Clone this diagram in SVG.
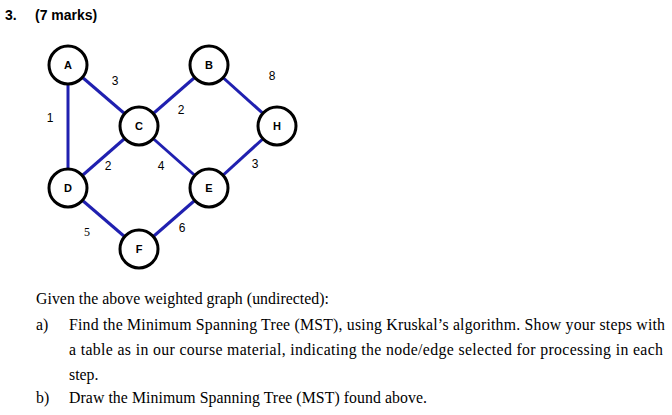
<svg xmlns="http://www.w3.org/2000/svg" width="672" height="415" viewBox="0 0 672 415">
<style>
.e{stroke:#2020b0;stroke-width:3}
.n circle{fill:#fff;stroke:#000;stroke-width:3}
.n text{font:bold 11px "Liberation Sans",sans-serif;text-anchor:middle}
.w{font:12px "Liberation Sans",sans-serif;text-anchor:middle}
.t{font:15.8px "Liberation Serif",serif}
</style>
<rect width="672" height="415" fill="#fff"/>
<text x="5" y="20" style="font:bold 14px 'Liberation Sans',sans-serif">3.</text>
<text x="35" y="20" style="font:bold 14px 'Liberation Sans',sans-serif">(7 marks)</text>
<g id="edges">
<line class="e" x1="68" y1="65" x2="68" y2="188"/>
<line class="e" x1="68" y1="65" x2="139" y2="126"/>
<line class="e" x1="209" y1="65" x2="139" y2="126"/>
<line class="e" x1="209" y1="65" x2="277" y2="126"/>
<line class="e" x1="68" y1="188" x2="139" y2="126"/>
<line class="e" x1="139" y1="126" x2="209" y2="188"/>
<line class="e" x1="277" y1="126" x2="209" y2="188"/>
<line class="e" x1="68" y1="188" x2="139" y2="249"/>
<line class="e" x1="209" y1="188" x2="139" y2="249"/>
<text class="w" x="115" y="85">3</text>
<text class="w" x="272" y="80">8</text>
<text class="w" x="181" y="114">2</text>
<text class="w" x="50" y="122">1</text>
<text class="w" x="108" y="170">2</text>
<text class="w" x="161" y="170">4</text>
<text class="w" x="255" y="168">3</text>
<text class="w" x="87" y="236" style="font-family:'Liberation Serif',serif">5</text>
<text class="w" x="182" y="232">6</text>
</g>
<g id="A" class="n"><circle cx="68" cy="65" r="19"/><text x="68" y="69">A</text></g>
<g id="B" class="n"><circle cx="209" cy="65" r="19"/><text x="209" y="69">B</text></g>
<g id="C" class="n"><circle cx="139" cy="126" r="19"/><text x="139" y="130">C</text></g>
<g id="H" class="n"><circle cx="277" cy="126" r="19"/><text x="277" y="130">H</text></g>
<g id="D" class="n"><circle cx="68" cy="188" r="19"/><text x="68" y="192">D</text></g>
<g id="E" class="n"><circle cx="209" cy="188" r="19"/><text x="209" y="192">E</text></g>
<g id="F" class="n"><circle cx="139" cy="249" r="19"/><text x="139" y="253">F</text></g>
<text class="t" x="36" y="304" textLength="293">Given the above weighted graph (undirected):</text>
<text class="t" x="36" y="330">a)</text>
<text class="t" x="69" y="330" textLength="596">Find the Minimum Spanning Tree (MST), using Kruskal’s algorithm.   Show your steps with</text>
<text class="t" x="69" y="355" textLength="594">a table as in our course material, indicating the node/edge selected for processing in each</text>
<text class="t" x="69" y="380">step.</text>
<text class="t" x="36" y="403">b)</text>
<text class="t" x="69" y="403" textLength="358">Draw the Minimum Spanning Tree (MST) found above.</text>
</svg>
